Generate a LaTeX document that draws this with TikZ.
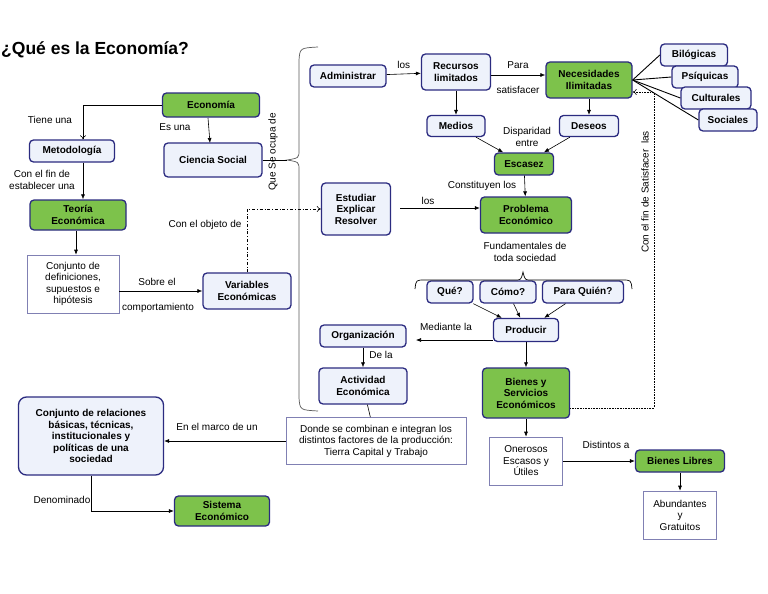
\documentclass[tikz,border=0pt]{standalone}
\usepackage{fontspec}
\setmainfont{Liberation Sans}
\usetikzlibrary{arrows.meta,decorations.pathreplacing}
\definecolor{gr}{HTML}{7DC24B}
\definecolor{lb}{HTML}{EEF2FB}
\definecolor{nv}{HTML}{2B2B80}
\begin{document}
\begin{tikzpicture}[x=1pt,y=-1pt,
 every node/.style={font=\fontsize{10}{11.5}\selectfont,align=center,inner sep=1pt},
 bx/.style={draw=nv,line width=1.3pt,rounded corners=4pt,fill=lb,font=\fontsize{10}{11.5}\selectfont\bfseries},
 gbx/.style={bx,fill=gr},
 wbx/.style={draw=nv!60,line width=0.6pt,fill=white},
 lab/.style={font=\fontsize{10}{11.5}\selectfont},
 ar/.style={-{Latex[length=5pt,width=4pt]},line width=0.6pt},
 oar/.style={-{To[length=4pt,width=6pt]},line width=0.6pt}]
\useasboundingbox (0,0) rectangle (768,594);
\node[anchor=west,font=\fontsize{17.5}{20}\selectfont\bfseries] (title) at (0,50) {¿Qué es la Economía?};
\node[gbx,minimum width=97pt,minimum height=24pt] (eco) at (211,105) {Economía};
\node[bx,minimum width=85pt,minimum height=22pt] (met) at (72,151) {Metodología};
\node[bx,minimum width=98pt,minimum height=34pt] (cs) at (213,160) {Ciencia Social};
\node[gbx,minimum width=96pt,minimum height=30pt] (teo) at (78,215) {Teoría\\Económica};
\node[wbx,minimum width=92pt,minimum height=58pt] (conj) at (73,284) {Conjunto de\\definiciones,\\supuestos e\\hipótesis};
\node[bx,minimum width=88pt,minimum height=36pt] (var) at (247,291) {Variables\\Económicas};
\node[bx,minimum width=76pt,minimum height=22pt] (adm) at (348,76) {Administrar};
\node[bx,minimum width=69pt,minimum height=36pt] (rec) at (456,72) {Recursos\\limitados};
\node[gbx,minimum width=86pt,minimum height=36pt] (nec) at (589,80) {Necesidades\\Ilimitadas};
\node[bx,minimum width=67pt,minimum height=22pt] (bio) at (694,55) {Bilógicas};
\node[bx,minimum width=66pt,minimum height=22pt] (psi) at (705,77) {Psíquicas};
\node[bx,minimum width=70pt,minimum height=22pt] (cul) at (716,98) {Culturales};
\node[bx,minimum width=58pt,minimum height=22pt] (soc) at (728,120) {Sociales};
\node[bx,minimum width=58pt,minimum height=21pt] (med) at (456,126) {Medios};
\node[bx,minimum width=59pt,minimum height=21pt] (des) at (589,126) {Deseos};
\node[gbx,minimum width=59pt,minimum height=22pt] (esc) at (524,164) {Escasez};
\node[bx,minimum width=69pt,minimum height=52pt] (est) at (356,209) {Estudiar\\Explicar\\Resolver};
\node[gbx,minimum width=91pt,minimum height=36pt] (pro) at (526,215) {Problema\\Económico};
\node[lab] (fund) at (525,252) {Fundamentales de\\toda sociedad};
\node[bx,minimum width=46pt,minimum height=22pt] (que) at (450,292) {Qué?};
\node[bx,minimum width=56pt,minimum height=22pt] (com) at (508,292) {Cómo?};
\node[bx,minimum width=81pt,minimum height=22pt] (pq) at (583,292) {Para Quién?};
\node[bx,minimum width=65pt,minimum height=23pt] (prod) at (526,330) {Producir};
\node[bx,minimum width=86pt,minimum height=22pt] (org) at (363,336) {Organización};
\node[bx,minimum width=88pt,minimum height=36pt] (act) at (363,386) {Actividad\\Económica};
\node[gbx,minimum width=87pt,minimum height=50pt] (bie) at (526,393) {Bienes y\\Servicios\\Económicos};
\node[wbx,minimum width=180pt,minimum height=47pt] (don) at (376,441) {Donde se combinan e integran los\\distintos factores de la producción:\\Tierra Capital y Trabajo};
\node[bx,minimum width=145pt,minimum height=78pt,rounded corners=8pt] (rel) at (91,436) {Conjunto de relaciones\\básicas, técnicas,\\institucionales y\\políticas de una\\sociedad};
\node[gbx,minimum width=95pt,minimum height=30pt] (sis) at (222,511) {Sistema\\Económico};
\node[wbx,minimum width=73pt,minimum height=48pt] (one) at (526,461) {Onerosos\\Escasos y\\Útiles};
\node[gbx,minimum width=89pt,minimum height=22pt] (bl) at (680,461) {Bienes Libres};
\node[wbx,minimum width=73pt,minimum height=48pt] (abu) at (680,515) {Abundantes\\y\\Gratuitos};
% braces
\draw[line width=0.7pt,gray!70!black] (318,47) .. controls (300,48) .. (299,60) -- (299,150) .. controls (299,158) .. (287,160) .. controls (299,162) .. (299,170) -- (299,398) .. controls (300,410) .. (318,411);
\coordinate (bt) at (287,160);
\draw[line width=0.6pt] (cs.east) -- (bt);
\node[lab,rotate=90] at (273,152) {Que Se ocupa de};
\draw[line width=0.7pt] (415,289) .. controls (416,280) .. (425,280) -- (515,280) .. controls (521,280) .. (523,272) .. controls (525,280) .. (531,280) -- (622,280) .. controls (631,280) .. (632,289);
% edges
\draw[oar] (eco.west) -| (met.north -| 83,0);
\node[lab] at (50,120) {Tiene una};
\draw[ar] (208,118) -- (210,143);
\node[lab] at (175,127) {Es una};
\draw[ar] (met.south -| 83,0) -- (teo.north -| 83,0);
\node[lab,anchor=east] at (76,180) {Con el fin de\\establecer una};
\draw[ar] (teo.south -| 76,0) -- (conj.north -| 76,0);
\draw[ar] (conj.east |- var.west) -- (var.west);
\node[lab] at (157,282) {Sobre el};
\node[lab] at (158,308) {comportamiento};
\draw[oar,dash dot] (var.north) |- (est.west);
\node[lab] at (205,225) {Con el objeto de};
\draw[ar] (adm) -- (rec) node[lab,midway,above=4pt] {los};
\draw[ar] (rec.east |- 0,75) -- (nec.west |- 0,75);
\node[lab] at (518,65) {Para};
\node[lab] at (518,90) {satisfacer};
\foreach \n in {bio,psi,cul,soc} \draw[line width=0.9pt] (nec.east) -- (\n.west);
\draw[ar] (rec) -- (med);
\draw[ar] (nec) -- (des);
\draw[ar] (med) -- (esc);
\draw[ar] (des) -- (esc);
\node[lab] at (527,137) {Disparidad\\entre};
\draw[ar] (esc) -- (pro);
\node[lab] at (482,186) {Constituyen los};
\coordinate (e1) at (400,208);
\draw[ar] (e1) -- (pro.west |- e1);
\node[lab] at (428,201) {los};
\draw[oar,densely dotted] (bie.east |- 0,408) -- (654,408) -- (654,92) -- (nec.east |- 0,92);
\node[lab,rotate=90] at (645,192) {Con el fin de Satisfacer\ \ las};
\draw[ar] (que) -- (prod);
\draw[ar] (com) -- (prod);
\draw[ar] (pq) -- (prod);
\draw[ar] (prod.west |- 0,340) -- (416,340);
\node[lab] at (446,327) {Mediante la};
\draw[ar] (org) -- (act);
\node[lab] at (381,355) {De la};
\draw[ar] (prod) -- (bie);
\draw[line width=0.6pt] (act) -- (don);
\draw[ar] (don.west) -- (rel.east |- don.west);
\node[lab] at (217,427) {En el marco de un};
\draw[ar] (rel.south) |- (sis.west);
\node[lab] at (62,500) {Denominado};
\draw[ar] (bie) -- (one);
\draw[ar] (one.east |- bl.west) -- (bl.west);
\node[lab] at (606,445) {Distintos a};
\draw[ar] (bl) -- (abu);
\end{tikzpicture}
\end{document}
